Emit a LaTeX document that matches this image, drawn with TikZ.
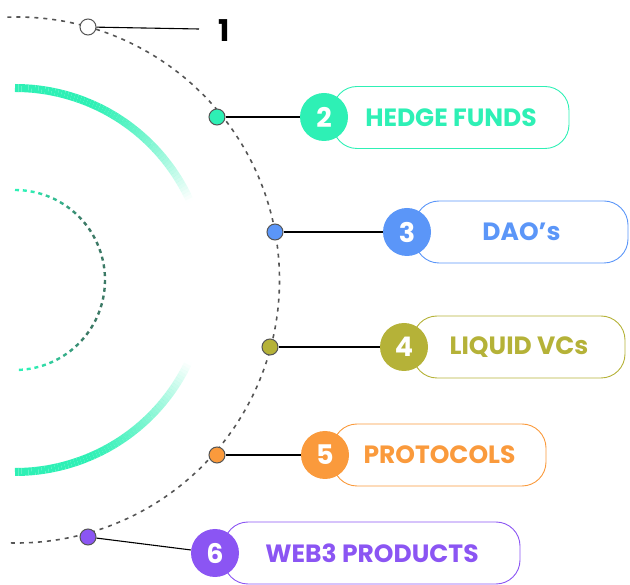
\documentclass[tikz,border=0pt]{standalone}
\usepackage{fontspec}
\setmainfont{Poppins}
\definecolor{cgreen}{HTML}{2EF0B5}
\definecolor{cblue}{HTML}{5B96F8}
\definecolor{colive}{HTML}{B5B238}
\definecolor{corange}{HTML}{FA9A3C}
\definecolor{cpurple}{HTML}{8B55F3}
\definecolor{cgray}{HTML}{555555}
\definecolor{cdgreen}{HTML}{3C7A66}
\begin{document}
\begin{tikzpicture}[x=1pt,y=-1pt,
  dot/.style={circle,draw=cgray,line width=1pt,minimum size=16pt,inner sep=0pt},
  num/.style={circle,fill=#1,text=white,minimum size=48pt,inner sep=0pt,font=\fontsize{27}{27}\selectfont\bfseries},
  lbox/.style={draw=#1,rounded corners=24pt,line width=0.9pt,minimum height=62pt,inner sep=0pt,text=#1,font=\fontsize{25}{25}\selectfont\bfseries},
  link/.style={line width=1.1pt,black}]
\useasboundingbox (0,0) rectangle (630,585);
% gradient arc
\foreach \a in {-90,-89,...,89}{
  \pgfmathsetmacro{\op}{max(0,min(1,(abs(sin(\a))-0.42)/0.5))}
  \draw[cgreen,line width=8pt,opacity=\op,line cap=butt] (15,280) ++(\a:192) arc[start angle=\a,end angle=\a+1,radius=192];
}
% inner dashed arc
\foreach \a in {-90,-85,...,85}{
  \pgfmathsetmacro{\m}{max(0,min(100,(abs(\a+2.5)-40)*2.5))}
  \draw[color=cgreen!\m!cdgreen,line width=2.4pt,dash pattern=on 4pt off 4pt] (15,280) ++(\a:90) arc[start angle=\a,end angle=\a+5,radius=90];
}
% outer dashed arc
\draw[cgray,line width=1.6pt,dash pattern=on 4pt off 5pt] (16.5,280) ++(-92:263) arc[start angle=-92,end angle=92,radius=263];
% dots
\node[dot,fill=white] (d1) at (88,27) {};
\node[dot,fill=cgreen] (d2) at (217,117) {};
\node[dot,fill=cblue] (d3) at (275,232) {};
\node[dot,fill=colive] (d4) at (270,347) {};
\node[dot,fill=corange] (d5) at (217,455) {};
\node[dot,fill=cpurple] (d6) at (88,537) {};
% boxes
\node[lbox=cgreen,minimum width=236pt] (b2) at (451,117.5) {HEDGE FUNDS};
\node[lbox=cblue,minimum width=213pt] (b3) at (521.5,232) {DAO’s};
\node[lbox=colive,minimum width=212pt] (b4) at (519,347) {LIQUID VCs};
\node[lbox=corange,minimum width=213pt] (b5) at (439.5,455) {PROTOCOLS};
\node[lbox=cpurple,minimum width=296pt] (b6) at (372,553) {WEB3 PRODUCTS};
\node[num=cgreen] (n2) at (324,117) {2};
\node[num=cblue] (n3) at (407,232) {3};
\node[num=colive] (n4) at (404,347) {4};
\node[num=corange] (n5) at (325,455) {5};
\node[num=cpurple] (n6) at (215,553) {6};
\node[font=\fontsize{30}{30}\selectfont\bfseries] (n1) at (224,31) {1};
\coordinate (e1) at (199,29);
\draw[link] (d1) -- (e1);
\draw[link] (d2) -- (n2);
\draw[link] (d3) -- (n3);
\draw[link] (d4) -- (n4);
\draw[link] (d5) -- (n5);
\draw[link] (d6) -- (n6);
\end{tikzpicture}
\end{document}
